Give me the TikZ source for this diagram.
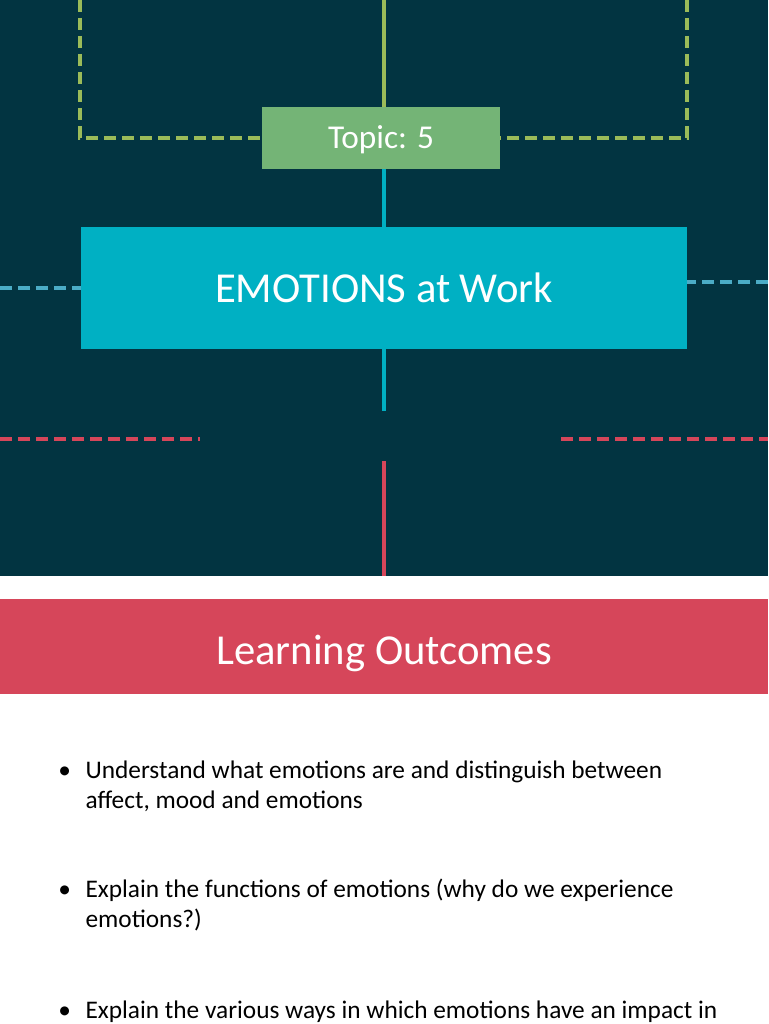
\documentclass[tikz,border=0pt]{standalone}
\usepackage{fontspec}
\setmainfont{Carlito}
\definecolor{bgdark}{HTML}{023441}
\definecolor{topicgreen}{HTML}{74B476}
\definecolor{boxteal}{HTML}{00B0C3}
\definecolor{dashgreen}{HTML}{9BBB59}
\definecolor{dashblue}{HTML}{4BACC6}
\definecolor{bannerred}{HTML}{D6465A}
\tikzset{
  gdash/.style={dashgreen,line width=2.6pt,dash pattern=on 9pt off 4.5pt},
  bdash/.style={dashblue,line width=2.6pt,dash pattern=on 9pt off 4.5pt},
  rdash/.style={bannerred,line width=2.6pt,dash pattern=on 9pt off 4.5pt},
  stem/.style={line width=2.6pt},
  bullet/.style={anchor=north west,align=left,font=\fontsize{19}{22.5}\selectfont,inner sep=0pt}
}
\begin{document}
\begin{tikzpicture}[x=0.75pt,y=-0.75pt]
\useasboundingbox (0,0) rectangle (768,1024);
\begin{scope}
\clip (0,0) rectangle (768,1024);
\fill[bgdark] (0,0) rectangle (768,576);
% frame lines
\coordinate (gl) at (80,0);
\coordinate (gr) at (687,0);
\coordinate (gt) at (384,0);
\node[fill=topicgreen,minimum width=178pt,minimum height=46.5pt,text=white,font=\fontsize{25}{30}\selectfont,text depth=2pt] (topic) at (381,138) {Topic: 5};
\node[fill=boxteal,minimum width=454.5pt,minimum height=91.5pt,text=white,font=\fontsize{32}{38}\selectfont] (emo) at (384,288) {EMOTIONS at Work};
\draw[gdash] (gl) |- (topic.west);
\draw[gdash] (gr) |- (topic.east);
\draw[stem,dashgreen] (gt) -- (gt |- topic.north);
\draw[stem,boxteal] (gt |- topic.south) -- (gt |- emo.north);
\coordinate (bl) at (0,288);
\coordinate (br) at (768,282);
\draw[bdash] (bl) -- (emo.west);
\draw[bdash] (br) -- (emo.east |- br);
\coordinate (tb) at (384,411);
\draw[stem,boxteal] (emo.south) -- (tb);
\coordinate (rl1) at (0,439);
\coordinate (rl2) at (200,439);
\coordinate (rr1) at (561,439);
\coordinate (rr2) at (768,439);
\draw[rdash] (rl1) -- (rl2);
\draw[rdash] (rr1) -- (rr2);
\coordinate (rs1) at (384,461);
\coordinate (rs2) at (384,576);
\draw[stem,bannerred] (rs1) -- (rs2);
% banner
\fill[bannerred] (0,599) rectangle (768,694);
\node[text=white,font=\fontsize{32}{38}\selectfont] (lo) at (384,653) {Learning Outcomes};
% bullets
\node[bullet] (b1) at (58,757) {\textbullet\hspace{11pt}\begin{tabular}[t]{@{}l@{}}Understand what emotions are and distinguish between\\affect, mood and emotions\end{tabular}};
\node[bullet] (b2) at (58,876) {\textbullet\hspace{11pt}\begin{tabular}[t]{@{}l@{}}Explain the functions of emotions (why do we experience\\emotions?)\end{tabular}};
\node[bullet] (b3) at (58,997) {\textbullet\hspace{11pt}\begin{tabular}[t]{@{}l@{}}Explain the various ways in which emotions have an impact in\end{tabular}};
\end{scope}
\end{tikzpicture}
\end{document}
